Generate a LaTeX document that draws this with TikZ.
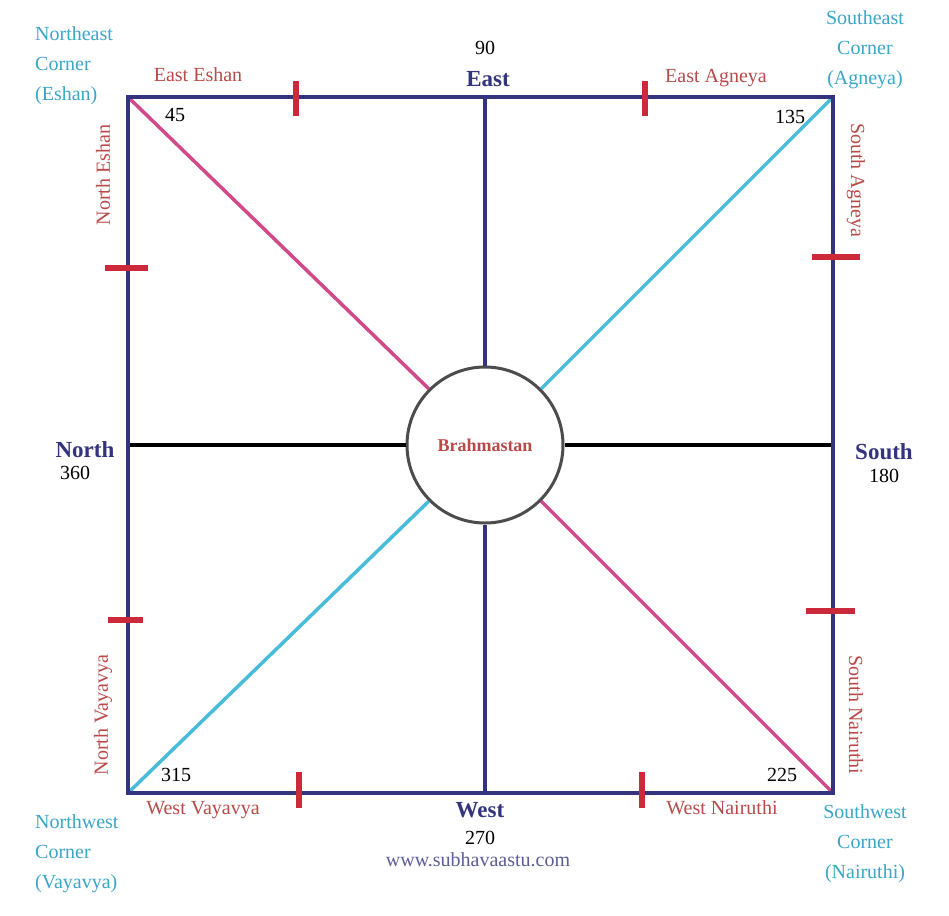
\documentclass[tikz,border=0pt]{standalone}
\usepackage{fontspec}
\setmainfont{Liberation Serif}
\begin{document}
\begin{tikzpicture}[x=1pt,y=-1pt,
  sq/.style={draw=navy,line width=4pt},
  tick/.style={draw=tickred,line width=6pt},
  lab/.style={text=labred,font=\fontsize{20}{22}\selectfont,inner sep=0pt},
  corner/.style={text=cornercyan,font=\fontsize{20}{30}\selectfont,inner sep=0pt},
  dir/.style={text=navy,font=\bfseries\fontsize{23}{25}\selectfont,inner sep=0pt},
  num/.style={text=black,font=\fontsize{20}{22}\selectfont,inner sep=0pt}]
\definecolor{navy}{HTML}{34347E}
\definecolor{tickred}{HTML}{CC2A3A}
\definecolor{labred}{HTML}{B84A4A}
\definecolor{cornercyan}{HTML}{3AA6C8}
\definecolor{mag}{HTML}{D04A8A}
\definecolor{cy}{HTML}{48BCD8}
\useasboundingbox[fill=white] (0,0) rectangle (949,915);
\coordinate (tl) at (128,97); \coordinate (tr) at (833,97);
\coordinate (bl) at (128,793); \coordinate (br) at (833,793);
\coordinate (c) at (485,445);
\node[circle,draw=black!70,line width=3pt,minimum size=156pt,inner sep=0pt] (hub) at (c) {};
\node[text=labred,font=\bfseries\fontsize{18}{20}\selectfont] at (c) {Brahmastan};
\draw[mag,line width=3.5pt] (tl) -- (hub.135);
\draw[mag,line width=3.5pt] (br) -- (hub.-45);
\draw[cy,line width=3.5pt] (tr) -- (hub.45);
\draw[cy,line width=3.5pt] (bl) -- (hub.-135);
\draw[navy,line width=3.5pt] (485,97) -- (hub.north);
\draw[navy,line width=3.5pt] (485,793) -- (hub.south);
\draw[black,line width=3.5pt] (128,445) -- (hub.west);
\draw[black,line width=3.5pt] (833,445) -- (hub.east);
\draw[sq] (tl) -- (tr) -- (br) -- (bl) -- cycle;
\draw[tick] (296,81) -- (296,116); \draw[tick] (645,81) -- (645,116);
\draw[tick] (299,772) -- (299,808); \draw[tick] (642,772) -- (642,808);
\draw[tick] (105,268) -- (148,268); \draw[tick] (108,620) -- (143,620);
\draw[tick] (812,257) -- (860,257); \draw[tick] (806,611) -- (855,611);
\node[corner,align=left,anchor=north west] at (35,26) {Northeast\\Corner\\(Eshan)};
\node[corner,align=center,anchor=north] at (865,10) {Southeast\\Corner\\(Agneya)};
\node[corner,align=left,anchor=north west] at (35,814) {Northwest\\Corner\\(Vayavya)};
\node[corner,align=center,anchor=north] at (865,804) {Southwest\\Corner\\(Nairuthi)};
\node[num] at (485,48) {90}; \node[dir] at (488,79) {East};
\node[lab] at (198,75) {East Eshan}; \node[num] at (175,115) {45};
\node[lab] at (716,78) {East Agneya}; \node[num] at (790,117) {135};
\node[lab,rotate=90] at (103,175) {North Eshan};
\node[lab,rotate=-90] at (856,180) {South Agneya};
\node[dir] at (85,450) {North}; \node[num] at (75,473) {360};
\node[dir] at (884,452) {South}; \node[num] at (884,476) {180};
\node[lab,rotate=90] at (103,715) {North Vayavya};
\node[lab,rotate=-90] at (856,715) {South Nairuthi};
\node[num] at (176,775) {315}; \node[num] at (782,775) {225};
\node[lab] at (203,810) {West Vayavya}; \node[lab] at (722,808) {West Nairuthi};
\node[dir] at (480,810) {West}; \node[num] at (480,838) {270};
\node[text=navy!80,font=\fontsize{20}{22}\selectfont] at (478,860) {www.subhavaastu.com};
\end{tikzpicture}
\end{document}
